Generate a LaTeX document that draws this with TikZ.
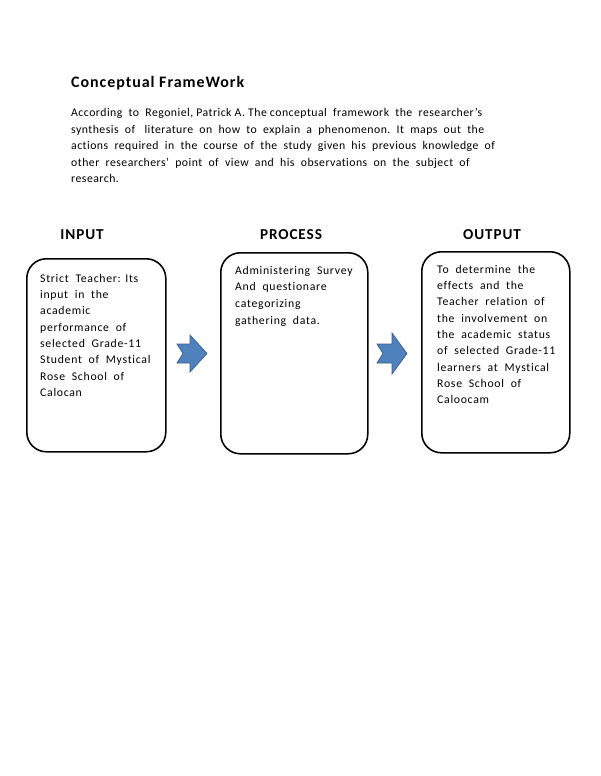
\documentclass[tikz,border=0pt]{standalone}
\usepackage{fontspec}
\setmainfont{Carlito}
\newfontfamily\spacedfont[LetterSpace=6,Ligatures={NoCommon}]{Carlito}
\newfontfamily\parafont[LetterSpace=4,Ligatures={NoCommon}]{Carlito}
\definecolor{arrowblue}{HTML}{4F81BD}
\definecolor{arrowedge}{HTML}{385D8A}
\begin{document}
\begin{tikzpicture}[x=1.02pt,y=-1.02pt,
  line/.style={anchor=base west, inner sep=0pt, font=\spacedfont\fontsize{12}{14}\selectfont},
  para/.style={anchor=base west, inner sep=0pt, font=\parafont\fontsize{12}{14}\selectfont},
  title/.style={anchor=base west, inner sep=0pt, font=\spacedfont\bfseries\fontsize{16.3}{18}\selectfont},
  head/.style={anchor=base, inner sep=0pt, font=\spacedfont\bfseries\fontsize{15.5}{18}\selectfont},
  framebox/.style={draw, line width=1.6pt, rounded corners=20pt, anchor=north west, inner sep=0pt},
  blockarrow/.style={fill=arrowblue, draw=arrowedge, line width=0.7pt, line join=miter}]
\useasboundingbox[fill=white] (0,0) rectangle (600,776);

% title and paragraph
\node[title] (ttl) at (71,87) {Conceptual FrameWork};
\node[para] (p1) at (71,116.5) {According\ \ to\ \ Regoniel, Patrick A. The conceptual\ \ framework\ \ the\ \ researcher’s};
\node[para] (p2) at (71,133) {synthesis\ \ of\ \ \ literature\ \ on\ \ how\ \ to\ \ explain\ \ a\ \ phenomenon.\ \ It\ \ maps\ \ out\ \ the};
\node[para] (p3) at (71,149.5) {actions\ \ required\ \ in\ \ the\ \ course\ \ of\ \ the\ \ study\ \ given\ \ his\ \ previous\ \ knowledge\ \ of};
\node[para] (p4) at (71,166) {other\ \ researchers’\ \ point\ \ of\ \ view\ \ and\ \ his\ \ observations\ \ on\ \ the\ \ subject\ \ of};
\node[para] (p5) at (71,182) {research.};

% headers
\node[head] (hin) at (82,239.5) {INPUT};
\node[head] (hproc) at (291,239.5) {PROCESS};
\node[head] (hout) at (492,239.5) {OUTPUT};

% boxes
\node[framebox, minimum width={139*1.02pt}, minimum height={193*1.02pt}] (inbox) at (26,258) {};
\node[framebox, minimum width={147*1.02pt}, minimum height={201*1.02pt}] (procbox) at (220,252) {};
\node[framebox, minimum width={148*1.02pt}, minimum height={201*1.02pt}] (outbox) at (421,251) {};

% input text
\node[line] (i1) at (40,282.3) {Strict\ \ Teacher: Its};
\node[line] (i2) at (40,298.6) {input\ \ in\ \ the};
\node[line] (i3) at (40,314.9) {academic};
\node[line] (i4) at (40,331.2) {performance\ \ of};
\node[line] (i5) at (40,347.5) {selected\ \ Grade-11};
\node[line] (i6) at (40,363.8) {Student\ \ of\ \ Mystical};
\node[line] (i7) at (40,380.1) {Rose\ \ School\ \ of};
\node[line] (i8) at (40,396.4) {Calocan};

% process text
\node[line] (c1) at (235,274) {Administering\ \ Survey};
\node[line] (c2) at (235,290.7) {And\ \ questionare};
\node[line] (c3) at (235,307.4) {categorizing};
\node[line] (c4) at (235,324.1) {gathering\ \ data.};

% output text
\node[line] (o1) at (437,273.3) {To\ \ determine\ \ the};
\node[line] (o2) at (437,289.6) {effects\ \ and\ \ the};
\node[line] (o3) at (437,305.9) {Teacher\ \ relation\ \ of};
\node[line] (o4) at (437,322.2) {the\ \ involvement\ \ on};
\node[line] (o5) at (437,338.5) {the\ \ academic\ \ status};
\node[line] (o6) at (437,354.8) {of\ \ selected\ \ Grade-11};
\node[line] (o7) at (437,371.1) {learners\ \ at\ \ Mystical};
\node[line] (o8) at (437,387.4) {Rose\ \ School\ \ of};
\node[line] (o9) at (437,403.7) {Caloocam};

% block arrows
\coordinate (a1) at (177,344);
\coordinate (a2) at (377,344);
\draw[blockarrow] (a1) -- ++(13,0) -- ++(0,-9) -- ++(17,18.5) -- ++(-17,18.5) -- ++(0,-9) -- ++(-13,0) -- ++(6,-9.5) -- cycle;
\draw[blockarrow] (a2) -- ++(15,0) -- ++(0,-11) -- ++(15,20.5) -- ++(-15,20.5) -- ++(0,-11) -- ++(-15,0) -- ++(6,-9.5) -- cycle;
\end{tikzpicture}
\end{document}
